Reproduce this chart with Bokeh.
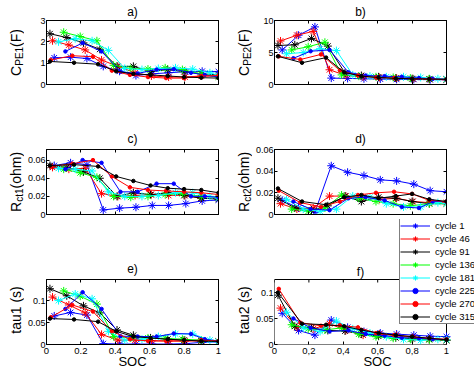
import math
from bokeh.plotting import figure
from bokeh.layouts import row, column
from bokeh.models import FixedTicker, LinearAxis, Legend, LegendItem, Range1d, Title
from bokeh.core.properties import value
from bokeh.embed import file_html
from bokeh.resources import INLINE

FONT = "Liberation Sans"
H = 368

cycle_names = ["cycle 1", "cycle 46", "cycle 91", "cycle 136", "cycle 181",
               "cycle 225", "cycle 270", "cycle 315"]
cycle_colors = ["#0000ff", "#ff0000", "#000000", "#00ff00", "#00ffff",
                "#0000ff", "#ff0000", "#000000"]
cycle_markers = ["asterisk"] * 5 + ["circle"] * 3

# SOC sampling points per cycle
soc_c1 = [0.045, 0.14, 0.235, 0.33, 0.425, 0.52, 0.615, 0.71, 0.81, 0.905, 1.0]
soc_c46 = [0.035, 0.13, 0.225, 0.32, 0.415, 0.515, 0.61, 0.71, 0.805, 0.9, 1.0]
soc_c91 = [0.02, 0.118, 0.215, 0.31, 0.41, 0.505, 0.605, 0.705, 0.8, 0.9, 1.0]
soc_c136 = [0.1, 0.196, 0.293, 0.39, 0.49, 0.59, 0.69, 0.79, 0.9, 1.0]
soc_c181 = [0.07, 0.167, 0.265, 0.36, 0.455, 0.555, 0.65, 0.75, 0.85, 0.95, 1.0]
soc_c225 = [0.11, 0.21, 0.32, 0.43, 0.53, 0.64, 0.74, 0.84, 0.92, 1.0]
soc_c270 = [0.025, 0.15, 0.27, 0.38, 0.485, 0.59, 0.695, 0.8, 0.9, 1.0]
soc_c315 = [0.02, 0.16, 0.3, 0.405, 0.505, 0.605, 0.705, 0.8, 0.9, 1.0]
soc_grid = [soc_c1, soc_c46, soc_c91, soc_c136, soc_c181, soc_c225, soc_c270, soc_c315]

# a) C_PE1 (F)
cpe1 = [
    [1.25, 1.28, 1.22, 0.85, 0.62, 0.42, 0.5, 0.55, 0.6, 0.62, 0.6],
    [2.05, 1.85, 1.62, 1.15, 0.85, 0.55, 0.4, 0.35, 0.35, 0.4, 0.38],
    [2.38, 2.2, 1.95, 1.65, 0.85, 0.85, 0.6, 0.7, 0.6, 0.5, 0.45],
    [2.45, 2.25, 2.05, 0.9, 0.75, 0.72, 0.78, 0.7, 0.5, 0.35],
    [2.0, 2.15, 2.05, 1.6, 0.75, 0.7, 0.75, 0.78, 0.72, 0.55, 0.42],
    [1.55, 1.95, 1.55, 0.6, 0.52, 0.7, 0.72, 0.55, 0.45, 0.35],
    [1.15, 1.35, 1.3, 0.65, 0.45, 0.35, 0.3, 0.3, 0.4, 0.42],
    [1.08, 1.02, 0.95, 0.62, 0.5, 0.45, 0.4, 0.35, 0.32, 0.3],
]
# b) C_PE2 (F)
cpe2 = [
    [5.4, 7.7, 9.0, 1.0, 0.95, 0.9, 0.85, 0.8, 0.8, 0.75, 0.75],
    [6.8, 7.7, 8.3, 2.3, 1.4, 1.2, 1.1, 1.0, 0.9, 0.8, 0.75],
    [6.1, 6.2, 7.2, 6.0, 1.8, 1.4, 1.2, 1.0, 0.9, 0.85, 0.8],
    [5.4, 5.9, 6.6, 1.5, 1.3, 1.2, 1.1, 1.0, 0.9, 0.8],
    [4.8, 5.0, 5.6, 5.3, 1.5, 1.3, 1.2, 1.2, 1.1, 0.9, 0.85],
    [4.1, 5.2, 5.4, 1.9, 1.4, 1.3, 1.2, 1.0, 0.9, 0.8],
    [4.4, 3.9, 4.7, 2.2, 1.4, 1.1, 1.0, 0.9, 0.85, 0.8],
    [4.4, 3.4, 4.2, 1.9, 1.3, 1.1, 0.95, 0.9, 0.85, 0.8],
]
# c) R_ct1 (ohm)
rct1 = [
    [0.054, 0.057, 0.055, 0.005, 0.007, 0.008, 0.01, 0.01, 0.012, 0.015, 0.016],
    [0.052, 0.05, 0.051, 0.023, 0.02, 0.021, 0.022, 0.021, 0.021, 0.018, 0.018],
    [0.054, 0.052, 0.047, 0.04, 0.02, 0.024, 0.022, 0.024, 0.021, 0.018, 0.017],
    [0.05, 0.046, 0.041, 0.02, 0.019, 0.02, 0.022, 0.023, 0.02, 0.019],
    [0.051, 0.05, 0.048, 0.025, 0.02, 0.02, 0.021, 0.024, 0.024, 0.02, 0.018],
    [0.05, 0.06, 0.057, 0.025, 0.025, 0.034, 0.034, 0.02, 0.02, 0.019],
    [0.053, 0.056, 0.06, 0.042, 0.03, 0.027, 0.026, 0.025, 0.024, 0.022],
    [0.054, 0.055, 0.053, 0.042, 0.037, 0.032, 0.029, 0.028, 0.027, 0.024],
]
# d) R_ct2 (ohm)
rct2 = [
    [0.013, 0.006, 0.002, 0.045, 0.039, 0.036, 0.032, 0.031, 0.028, 0.022, 0.021],
    [0.01, 0.005, 0.006, 0.017, 0.017, 0.016, 0.014, 0.015, 0.012, 0.011, 0.011],
    [0.015, 0.006, 0.004, 0.008, 0.017, 0.012, 0.016, 0.015, 0.012, 0.01, 0.01],
    [0.005, 0.003, 0.006, 0.018, 0.015, 0.012, 0.01, 0.008, 0.01, 0.01],
    [0.014, 0.005, 0.003, 0.005, 0.017, 0.016, 0.01, 0.007, 0.007, 0.011, 0.01],
    [0.012, 0.005, 0.004, 0.015, 0.016, 0.013, 0.007, 0.006, 0.012, 0.012],
    [0.022, 0.011, 0.007, 0.012, 0.018, 0.02, 0.021, 0.019, 0.013, 0.012],
    [0.024, 0.012, 0.009, 0.016, 0.018, 0.015, 0.017, 0.019, 0.014, 0.012],
]
# e) tau1 (s)
tau1 = [
    [0.065, 0.073, 0.067, 0.002, 0.001, 0.001, 0.001, 0.001, 0.002, 0.005, 0.006],
    [0.108, 0.09, 0.072, 0.023, 0.01, 0.01, 0.009, 0.008, 0.008, 0.008, 0.007],
    [0.127, 0.111, 0.088, 0.072, 0.033, 0.021, 0.015, 0.012, 0.01, 0.008, 0.007],
    [0.122, 0.11, 0.092, 0.018, 0.015, 0.015, 0.014, 0.012, 0.01, 0.007],
    [0.1, 0.115, 0.104, 0.03, 0.01, 0.012, 0.018, 0.024, 0.024, 0.01, 0.006],
    [0.081, 0.119, 0.081, 0.019, 0.018, 0.018, 0.025, 0.024, 0.012, 0.008],
    [0.062, 0.09, 0.075, 0.03, 0.012, 0.008, 0.008, 0.008, 0.01, 0.008],
    [0.059, 0.057, 0.052, 0.03, 0.018, 0.015, 0.012, 0.01, 0.008, 0.007],
]
# f) tau2 (s)
tau2 = [
    [0.06, 0.027, 0.018, 0.047, 0.033, 0.025, 0.022, 0.02, 0.018, 0.016, 0.015],
    [0.07, 0.033, 0.03, 0.04, 0.027, 0.018, 0.02, 0.017, 0.013, 0.01, 0.008],
    [0.095, 0.035, 0.032, 0.027, 0.026, 0.02, 0.016, 0.013, 0.011, 0.01, 0.008],
    [0.038, 0.03, 0.028, 0.032, 0.02, 0.015, 0.012, 0.01, 0.009, 0.009],
    [0.062, 0.032, 0.025, 0.045, 0.03, 0.022, 0.015, 0.01, 0.008, 0.01, 0.009],
    [0.05, 0.032, 0.025, 0.027, 0.02, 0.017, 0.013, 0.012, 0.01, 0.01],
    [0.107, 0.042, 0.036, 0.037, 0.033, 0.022, 0.018, 0.015, 0.012, 0.01],
    [0.1, 0.04, 0.038, 0.035, 0.028, 0.022, 0.018, 0.015, 0.012, 0.009],
]

x_ticks = [0, 0.2, 0.4, 0.6, 0.8, 1]
x_labels_dot = ["0", "0.2", "0.4", "0.6", "0.8", "1"]
x_labels_comma = ["0", "0,2", "0,4", "0,6", "0,8", "1"]

# Arial / Liberation Sans advance widths (per 1000 em)
ADV = {'C': 722, 'P': 667, 'E': 667, '1': 556, '2': 556, 'R': 722, 'c': 500,
       't': 278, ' ': 278, '(': 333, 'F': 611, ')': 333, 'o': 556, 'h': 556,
       'm': 833, 'a': 556, 'u': 556, 's': 500}
MAIN_PX = 14
SUB_PX = 10
STRIP_W = 24
PANEL_ML = 19


def text_w(s, size):
    return sum(ADV.get(ch, 556) for ch in s) * size / 1000.0


def style_axis(ax, ticks, labels=None, size="9px", standoff=1):
    ax.ticker = FixedTicker(ticks=ticks)
    ax.major_tick_in = 3
    ax.major_tick_out = 0
    ax.minor_tick_line_color = None
    ax.axis_line_color = "black"
    ax.major_tick_line_color = "black"
    ax.major_label_text_font = FONT
    if labels is None:
        ax.major_label_text_font_size = "0px"
        ax.major_label_text_color = None
        ax.major_label_standoff = 0
    else:
        ax.major_label_text_color = "black"
        ax.major_label_text_font_size = size
        ax.major_label_standoff = standoff
        ax.major_label_overrides = {t: l for t, l in zip(ticks, labels)}


def set_soc_label(ax):
    ax.axis_label = "SOC"
    ax.axis_label_text_font = FONT
    ax.axis_label_text_font_size = "13px"
    ax.axis_label_text_font_style = "normal"
    ax.axis_label_text_color = "black"
    ax.axis_label_standoff = -3


def draw_series(p, series):
    items = []
    for i in range(8):
        xs = soc_grid[i]
        ys = series[i]
        lr = p.line(xs, ys, line_color=cycle_colors[i], line_width=1)
        if cycle_markers[i] == "asterisk":
            mr = p.scatter(xs, ys, marker="asterisk", size=8,
                           line_color=cycle_colors[i], line_width=1)
        else:
            mr = p.scatter(xs, ys, marker="circle", size=3.5,
                           fill_color=cycle_colors[i], line_color=cycle_colors[i])
        items.append(LegendItem(label=cycle_names[i], renderers=[lr, mr]))
    return items


def base_fig(fw, fh, xr, yr, ml, mr, mt, mb):
    p = figure(frame_width=fw, frame_height=fh, x_range=Range1d(*xr), y_range=Range1d(*yr),
               min_border_left=ml, min_border_right=mr, min_border_top=mt, min_border_bottom=mb,
               output_backend="svg", toolbar_location=None, tools="")
    p.xgrid.visible = False
    p.ygrid.visible = False
    p.background_fill_color = "white"
    p.border_fill_color = "white"
    return p


def make_panel(series, yr, yticks, ylabels, title, col, frame_h, mt, mb, title_standoff,
               xlabels=None):
    mr = 10 if col == 0 else 34
    p = base_fig(172, frame_h, (0, 1), yr, PANEL_ML, mr, mt, mb)
    p.outline_line_color = "black"
    p.outline_line_width = 1
    bottom_ax = p.below[0]
    left_ax = p.left[0]
    style_axis(bottom_ax, x_ticks, xlabels, size="9.5px", standoff=3)
    style_axis(left_ax, yticks, ylabels)
    top_ax = LinearAxis()
    style_axis(top_ax, x_ticks, None)
    p.add_layout(top_ax, "above")
    right_ax = LinearAxis()
    style_axis(right_ax, yticks, None)
    p.add_layout(right_ax, "right")
    p.title = Title(text=title, align="center", text_font=FONT, text_font_size="12px",
                    text_font_style="normal", text_color="black", standoff=title_standoff)
    if xlabels is not None:
        set_soc_label(bottom_ax)
    draw_series(p, series)
    return p


pa = make_panel(cpe1, (0, 3), [0, 1, 2, 3], ["0", "1", "2", "3"], "a)", 0, 64, 18, 18, 4)
pb = make_panel(cpe2, (0, 10), [0, 5, 10], ["0", "5", "10"], "b)", 1, 64, 18, 18, 4)
pc = make_panel(rct1, (0, 0.0717), [0, 0.02, 0.04, 0.06], ["0", "0.02", "0.04", "0.06"], "c)",
                0, 65, 47, 13, 7)
pd = make_panel(rct2, (0, 0.06), [0, 0.02, 0.04, 0.06], ["0", "0.02", "0.04", "0.06"], "d)",
                1, 65, 47, 5, 7)
pe = make_panel(tau1, (0, 0.148), [0, 0.05, 0.1], ["0", "0.05", "0.1"], "e)",
                0, 65, 52, 26, 7, xlabels=x_labels_dot)

# f) panel: its frame also holds the legend, so the plotting box is drawn inside it
f_top = 0.125
f_yticks = [0, 0.05, 0.1]
f_frame_w, f_frame_h = 206, 125
f_box_w, f_box_h = 172, 65
pf = base_fig(f_frame_w, f_frame_h, (0, f_frame_w / f_box_w), (0, f_top * f_frame_h / f_box_h),
              PANEL_ML, 0, 0, 26)
pf.outline_line_color = None
f_bottom_ax = pf.below[0]
f_left_ax = pf.left[0]
style_axis(f_bottom_ax, x_ticks, x_labels_comma, size="9.5px", standoff=3)
style_axis(f_left_ax, f_yticks, ["0", "0.05", "0.1"])
f_bottom_ax.bounds = (0, 1)
f_left_ax.bounds = (0, f_top)
f_bottom_ax.axis_line_color = None
f_left_ax.axis_line_color = None
set_soc_label(f_bottom_ax)
pf.quad(left=[0], right=[1], bottom=[0], top=[f_top], fill_color=None,
        line_color="black", line_width=1)
tl_x = 3.0 / f_box_w
tl_y = 3.0 * f_top / f_box_h
pf.segment(x0=x_ticks, y0=[f_top] * len(x_ticks), x1=x_ticks,
           y1=[f_top - tl_y] * len(x_ticks), line_color="black", line_width=1)
pf.segment(x0=[1] * len(f_yticks), y0=f_yticks, x1=[1 - tl_x] * len(f_yticks),
           y1=f_yticks, line_color="black", line_width=1)
f_items = draw_series(pf, tau2)
pf.text(x=[0.5], y=[f_top * (342 - 269.5) / f_box_h], text=["f)"], text_align="center",
        text_baseline="alphabetic", text_font=value(FONT), text_font_size=value("12px"),
        text_color="black")

legend = Legend(items=f_items, location=(125, 20), orientation="vertical",
                glyph_width=30, glyph_height=13, label_height=13, label_width=48,
                spacing=0, padding=0, margin=0, label_standoff=5,
                label_text_font=FONT, label_text_font_size="9.5px",
                label_text_color="black", label_text_baseline="middle",
                border_line_color="black", border_line_width=1,
                background_fill_color="white", background_fill_alpha=1.0)
pf.add_layout(legend, "center")


# y-label strips (rotated texts with subscripts)
def strip(width):
    s = figure(frame_width=width, frame_height=H, x_range=Range1d(0, width), y_range=Range1d(0, H),
               min_border=0, output_backend="svg", toolbar_location=None, tools="",
               x_axis_location=None, y_axis_location=None)
    s.xgrid.visible = False
    s.ygrid.visible = False
    s.outline_line_color = None
    s.background_fill_color = "white"
    s.border_fill_color = "white"
    return s


def add_ylabel(s, parts, mid_y, center_x):
    total = sum(text_w(t, SUB_PX if sub else MAIN_PX) for t, sub in parts)
    y_page = mid_y + total / 2.0
    for t, sub in parts:
        size = SUB_PX if sub else MAIN_PX
        s.text(x=[center_x + (3.5 if sub else 0)], y=[H - y_page], text=[t], angle=math.pi / 2,
               text_align="left", text_baseline="middle", text_font=value(FONT),
               text_font_size=value(f"{size}px"), text_color="black")
        y_page -= text_w(t, size)


row_mid = [50, 179.5, 309.5]
sL = strip(STRIP_W)
add_ylabel(sL, [("C", False), ("PE1", True), (" (F)", False)], row_mid[0], 15)
add_ylabel(sL, [("R", False), ("ct1", True), (" (ohm)", False)], row_mid[1], 15)
add_ylabel(sL, [("tau1 (s)", False)], row_mid[2], 15)
sR = strip(STRIP_W)
add_ylabel(sR, [("C", False), ("PE2", True), (" (F)", False)], row_mid[0], 15)
add_ylabel(sR, [("R", False), ("ct2", True), (" (ohm)", False)], row_mid[1], 15)
add_ylabel(sR, [("tau2 (s)", False)], row_mid[2], 15)

layout = row(sL, column(pa, pc, pe), sR, column(pb, pd, pf))

open("out.html", "w").write(file_html(layout, INLINE))
